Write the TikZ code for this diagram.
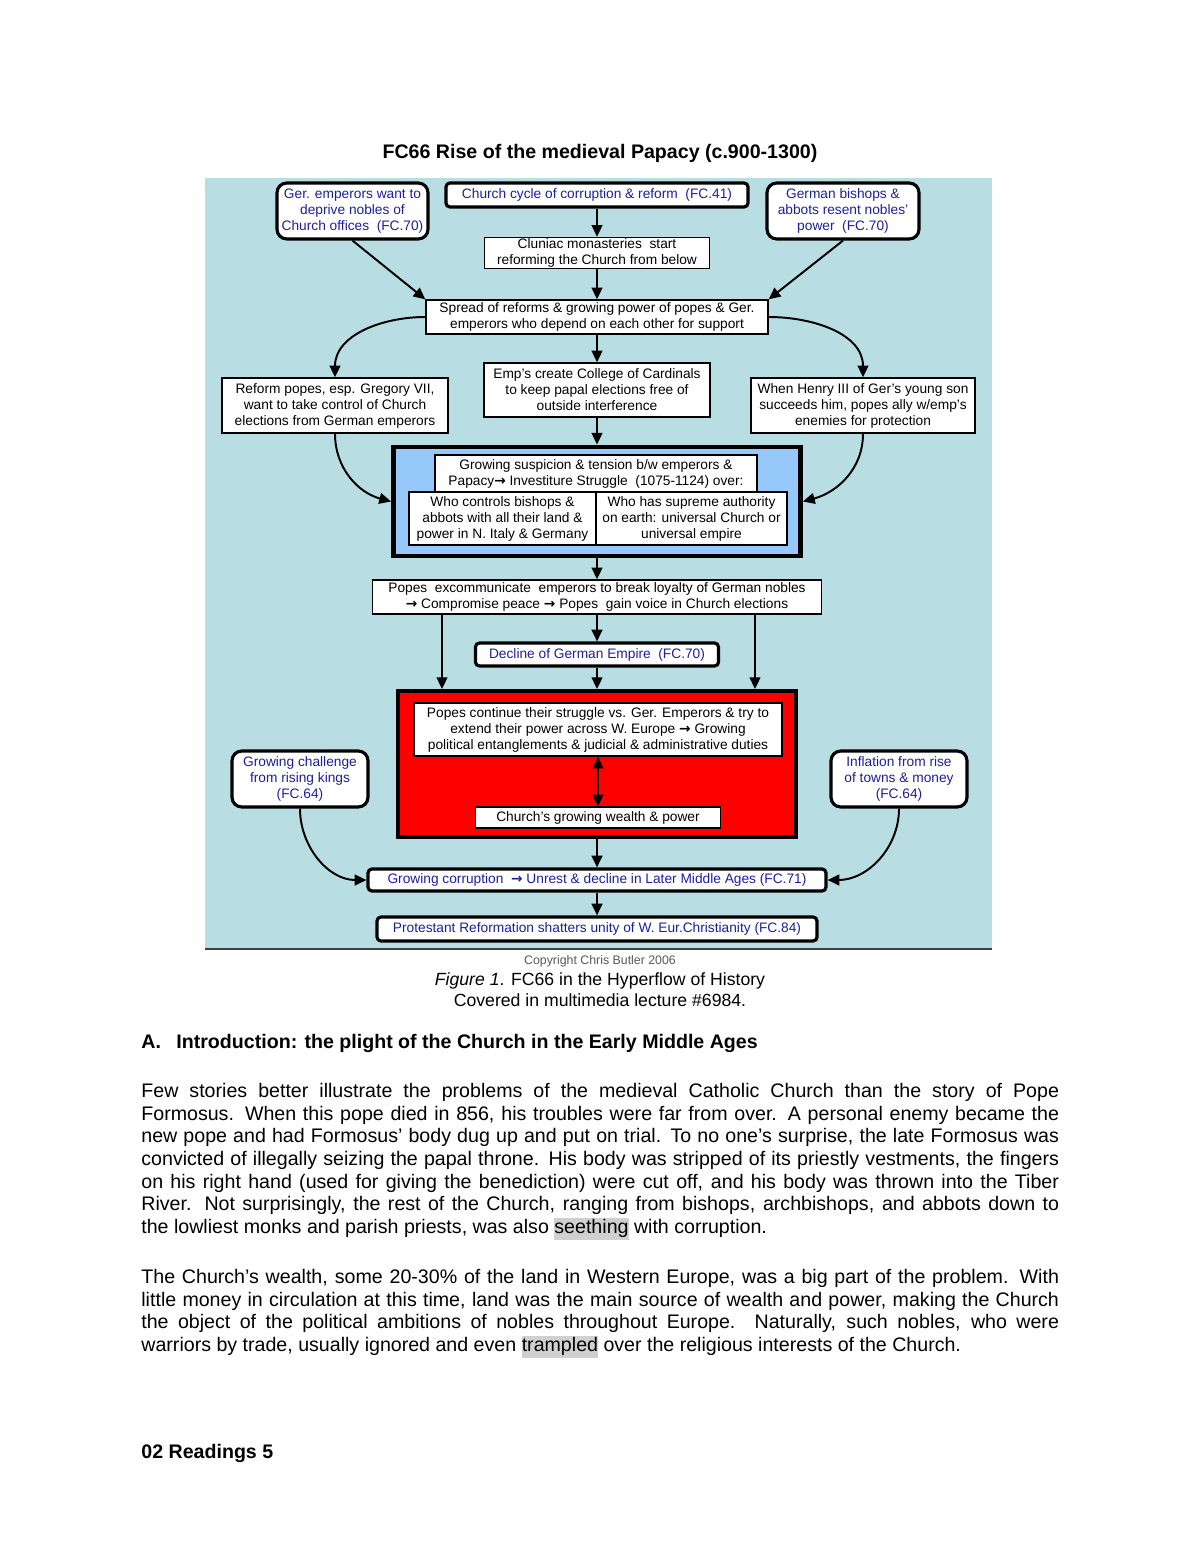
\documentclass[tikz,border=0pt]{standalone}
\usepackage{fontspec}
\setmainfont{Liberation Sans}
\newfontfamily\arrowfont{DejaVu Sans}
\usetikzlibrary{arrows.meta,calc}
\definecolor{bgc}{RGB}{184,222,227}
\definecolor{framec}{RGB}{150,200,250}
\definecolor{txtblue}{RGB}{30,30,160}
\definecolor{hlgray}{RGB}{208,208,208}
\definecolor{redbox}{RGB}{255,0,0}
\newcommand\dfont{\fontsize{7.0}{8.16}\selectfont}
\newcommand\ar{{\arrowfont\bfseries →}}
\newcommand\hlword[1]{{\setlength\fboxsep{0pt}\colorbox{hlgray}{\strut #1}}}
\tikzset{
  sz/.style 2 args={minimum width={#1*0.51pt}, minimum height={#2*0.51pt}},
  base/.style={inner sep=0pt, align=center, font=\dfont},
  thinbox/.style={base, draw, line width=0.7pt, fill=white},
  thickbox/.style={base, draw, line width=1.6pt, rounded corners=2pt, fill=white, text=txtblue},
  roundbox/.style={base, draw, line width=1.6pt, rounded corners=5pt, fill=white, text=txtblue},
  arr/.style={-{Triangle[length=6pt,width=5.5pt]}, line width=1pt},
  arrboth/.style={{Triangle[length=6pt,width=5.5pt]}-{Triangle[length=6pt,width=5.5pt]}, line width=1pt},
  plain/.style={inner sep=0pt},
}
\begin{document}
\begin{tikzpicture}[x=0.51pt,y=-0.51pt]
\useasboundingbox (0,0) rectangle (1200,1553);
\fill[white] (0,0) rectangle (1200,1553);

% title
\node[plain, anchor=base, font=\bfseries\fontsize{10}{11.5}\selectfont] (title) at (600,159) {FC66 Rise of the medieval Papacy (c.900-1300)};

% diagram background
\fill[bgc] (205,178) rectangle (992,949);
\draw[line width=1.2pt, color=black!75] (205,949) -- (992,949);

% nodes
\node[roundbox, sz={151}{56}] (ger) at (352.5,211) {Ger. emperors want to\\deprive nobles of\\Church offices~ (FC.70)};
\node[thickbox, sz={302}{24}] (cyc) at (597,195) {Church cycle of corruption \& reform~ (FC.41)};
\node[roundbox, sz={152}{56}] (bish) at (843,211) {German bishops \&\\abbots resent nobles'\\power~ (FC.70)};
\node[thinbox, sz={225}{31}] (clun) at (597,253) {Cluniac monasteries~ start\\reforming the Church from below};
\node[thinbox, sz={342}{34}] (spread) at (597,317) {Spread of reforms \& growing power of popes \& Ger.\\emperors who depend on each other for support};
\node[thinbox, sz={226}{55}] (reform) at (335,405.5) {Reform popes, esp. Gregory VII,\\want to take control of Church\\elections from German emperors};
\node[thinbox, sz={226}{54}] (emp) at (597,390) {Emp's create College of Cardinals\\to keep papal elections free of\\outside interference};
\node[thinbox, sz={224}{55}] (henry) at (863,405.5) {When Henry III of Ger's young son\\succeeds him, popes ally w/emp's\\enemies for protection};

\node[base, draw, line width=2.5pt, fill=framec, sz={407}{109}] (frame) at (597,501.5) {};
\node[thinbox, sz={322}{37}] (grow) at (596,473.5) {Growing suspicion \& tension b/w emperors \&\\Papacy\ar{} Investiture Struggle~ (1075-1124) over:};
\node[thinbox, sz={187}{53}] (who1) at (502.5,518.5) {Who controls bishops \&\\abbots with all their land \&\\power in N. Italy \& Germany};
\node[thinbox, sz={191}{53}] (who2) at (691.5,518.5) {Who has supreme authority\\on earth: universal Church or\\universal empire};

\node[thinbox, sz={449}{34}] (popes) at (597,597) {Popes~ excommunicate~ emperors to break loyalty of German nobles\\\ar{} Compromise peace \ar{} Popes~ gain voice in Church elections};
\node[thickbox, sz={243}{23}] (decl) at (597,654.5) {Decline of German Empire~ (FC.70)};

\node[base, draw, line width=2pt, fill=redbox, sz={398}{146}] (red) at (597,764) {};
\node[thinbox, sz={368}{53}] (cont) at (598,729.5) {Popes continue their struggle vs. Ger. Emperors \& try to\\extend their power across W. Europe \ar{} Growing\\political entanglements \& judicial \& administrative duties};
\node[thinbox, sz={245}{21}] (wealth) at (598,817.5) {Church's growing wealth \& power};

\node[roundbox, sz={136}{56}] (kings) at (300,779) {Growing challenge\\from rising kings\\(FC.64)};
\node[roundbox, sz={136}{56}] (infl) at (899,779) {Inflation from rise\\of towns \& money\\(FC.64)};
\node[thickbox, sz={458}{22}] (corr) at (597,880) {Growing corruption~ \ar{} Unrest \& decline in Later Middle Ages (FC.71)};
\node[thickbox, sz={440}{24}] (prot) at (597,929) {Protestant Reformation shatters unity of W. Eur.Christianity (FC.84)};

% connectors
\draw[arr] (ger.south) -- (spread.north west);
\draw[arr] (bish.south) -- (spread.north east);
\draw[arr] (cyc.south) -- (clun.north);
\draw[arr] (clun.south) -- (spread.north);
\draw[arr] (spread.west) to[out=180,in=90] (reform.north);
\draw[arr] (spread.east) to[out=0,in=90] (henry.north);
\draw[arr] (spread.south) -- (emp.north);
\draw[arr] (reform.south) to[out=-90,in=165] (frame.west);
\draw[arr] (henry.south) to[out=-90,in=15] (frame.east);
\draw[arr] (emp.south) -- (frame.north);
\draw[arr] (frame.south) -- (popes.north);
\draw[arr] (popes.south) -- (decl.north);
\draw[arr] ($(popes.south)+(-155,0)$) -- ($(red.north)+(-155,0)$);
\draw[arr] ($(popes.south)+(158,0)$) -- ($(red.north)+(158,0)$);
\draw[arr] (decl.south) -- (red.north);
\draw[arrboth] (cont.south) -- (wealth.north);
\draw[arr] (red.south) -- (corr.north);
\draw[arr] (kings.south) to[out=-90,in=180] (corr.west);
\draw[arr] (infl.south) to[out=-90,in=0] (corr.east);
\draw[arr] (corr.south) -- (prot.north);

% captions
\node[plain, anchor=base, font=\fontsize{6.3}{7}\selectfont, text=black!65] (copy) at (600,964) {Copyright Chris Butler 2006};
\node[plain, anchor=base, font=\fontsize{9}{10.5}\selectfont] (cap1) at (600,985) {\textit{Figure 1}. FC66 in the Hyperflow of History};
\node[plain, anchor=base, font=\fontsize{9}{10.5}\selectfont] (cap2) at (600,1006) {Covered in multimedia lecture \#6984.};

% heading
\node[plain, anchor=base west, font=\bfseries\fontsize{10}{11.5}\selectfont] (hA) at (141,1048) {A.};
\node[plain, anchor=base west, font=\bfseries\fontsize{10}{11.5}\selectfont] (hI) at (176,1048) {Introduction: the plight of the Church in the Early Middle Ages};

% paragraphs
\node[plain, anchor=north west, text width=468pt, align=justify, font=\fontsize{10}{11.56}\selectfont] (p1) at (141,1083) {\hyphenpenalty=10000\tolerance=10000\emergencystretch=20pt
Few stories better illustrate the problems of the medieval Catholic Church than the story of Pope\linebreak
Formosus. When this pope died in 856, his troubles were far from over. A personal enemy became the\linebreak
new pope and had Formosus' body dug up and put on trial. To no one's surprise, the late Formosus was\linebreak
convicted of illegally seizing the papal throne. His body was stripped of its priestly vestments, the fingers\linebreak
on his right hand (used for giving the benediction) were cut off, and his body was thrown into the Tiber\linebreak
River. Not surprisingly, the rest of the Church, ranging from bishops, archbishops, and abbots down to\linebreak
the lowliest monks and parish priests, was also \hlword{seething} with corruption.};

\node[plain, anchor=north west, text width=468pt, align=justify, font=\fontsize{10}{11.56}\selectfont] (p2) at (141,1269) {\hyphenpenalty=10000\tolerance=10000\emergencystretch=20pt
The Church's wealth, some 20-30\% of the land in Western Europe, was a big part of the problem. With\linebreak
little money in circulation at this time, land was the main source of wealth and power, making the Church\linebreak
the object of the political ambitions of nobles throughout Europe. Naturally, such nobles, who were\linebreak
warriors by trade, usually ignored and even \hlword{trampled} over the religious interests of the Church.};

% footer
\node[plain, anchor=base west, font=\bfseries\fontsize{10}{11.5}\selectfont] (foot) at (141,1458) {02 Readings 5};
\end{tikzpicture}
\end{document}
